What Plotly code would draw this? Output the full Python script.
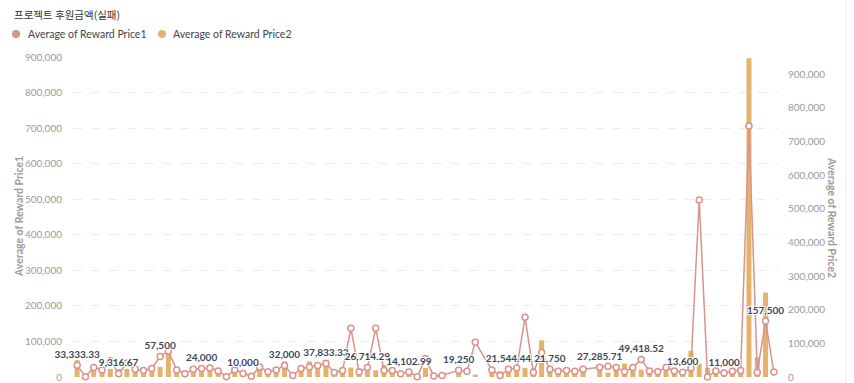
import plotly.graph_objects as go

# ---- data ----
categories = list(range(1, 86))

price1 = [33333.33, 1000, 27000, 20000, 46000, 9316.67, 39000, 22000, 18000, 24000,
          57500, 73000, 20000, 9000, 22000, 24000, 25000, 17000, 1000, 20000,
          10000, 2000, 28000, 15000, 20000, 32000, 4000, 24000, 28000, 32000,
          37833.33, 13000, 18000, 137000, 14000, 26714.29, 137000, 18000, 18000, 9000,
          14102.99, 1000, 51000, 3000, 4000, None, 19250, 16000, 98000, None,
          20000, 4000, 21544.44, 25000, 168000, 13000, 69000, 21750, 16000, 18000,
          16000, 22000, None, 27285.71, 30000, 27000, 15000, 27000, 49418.52, 17000,
          15000, 27000, 17000, 13600, 25000, 498000, 0, 17000, 11000, 16000,
          18000, 706000, 13000, 157500, 14000]

price2 = [50000, 0, 29000, 24000, 24000, 24000, 24000, 24000, 22000, 27000,
          30000, 76000, 20000, 16000, 22000, 22000, 22000, 18000, 8000, 26000,
          10000, 0, 24000, 16000, 22000, 46000, 15000, 22000, 46000, 40000,
          51000, 10000, 26000, 28000, 26000, 28000, 20000, 36000, 24000, 18000,
          15000, 8000, 27000, 0, 0, None, 26000, 0, 7000, None,
          21000, 17000, 27000, 30000, 27000, 26000, 109000, 26000, 20000, 20000,
          18000, 33000, None, 26000, 13000, 22000, 40000, 36000, 22000, 20000,
          16000, 33000, 20000, 22000, 78000, 40000, 27000, 20000, 18000, 24000,
          24000, 947000, 58000, 251000, 0]

label_indices = [0, 5, 10, 15, 20, 25, 30, 35, 40, 46, 52, 57, 63, 68, 73, 78, 83]

title_text = "프로젝트 후원금액(실패)"
name1 = "Average of Reward Price1"
name2 = "Average of Reward Price2"

# ---- styling ----
LINE_COLOR = "#d9928c"
BAR_COLOR = "#e4b26c"
TICK_COLOR = "#9b9b9b"
FONT = "Lato, 'Noto Sans CJK KR', sans-serif"

def fmt(v):
    s = f"{v:,.2f}"
    if s.endswith(".00"):
        s = s[:-3]
    return s

labels = ["" for _ in price1]
for i in label_indices:
    labels[i] = fmt(price1[i])

W, H = 854, 383
ML, MR, MT, MB = 73, 76, 57, 6
PW, PH = W - ML - MR, H - MT - MB

def px_x(px):
    return (px - ML) / PW

def px_y(py):
    return (H - MB - py) / PH

fig = go.Figure()

fig.add_trace(go.Bar(
    x=categories, y=price2, name=name2, yaxis="y",
    marker=dict(color=BAR_COLOR, line=dict(width=0)),
    showlegend=False, hoverinfo="skip",
))

fig.add_trace(go.Scatter(
    x=categories, y=price1, name=name1, yaxis="y2",
    mode="lines+markers+text", connectgaps=True,
    line=dict(color=LINE_COLOR, width=1.5),
    marker=dict(symbol="circle", size=6, color="white",
                line=dict(color=LINE_COLOR, width=1.5)),
    text=labels, textposition="top center",
    textfont=dict(family=FONT, size=10, color="#40455a", weight="bold",
                  shadow="-1px -1px 0 #fff, 1px -1px 0 #fff, -1px 1px 0 #fff, 1px 1px 0 #fff"),
    cliponaxis=False,
    showlegend=False, hoverinfo="skip",
))

tickfont = dict(family=FONT, size=10, color=TICK_COLOR)

fig.update_layout(
    width=W, height=H,
    margin=dict(l=ML, r=MR, t=MT, b=MB, pad=0, autoexpand=False),
    paper_bgcolor="white", plot_bgcolor="white",
    bargap=0.4,
    showlegend=False,
    xaxis=dict(type="category", range=[-0.5, len(categories) - 0.5],
               visible=False, automargin=False),
    yaxis=dict(side="right", range=[0, 951000], dtick=100000, tickformat=",",
               showgrid=False, zeroline=False, showline=False, automargin=False,
               tickfont=tickfont, ticklabelstandoff=9),
    yaxis2=dict(side="left", overlaying="y", range=[0, 900000], dtick=100000,
                tickformat=",", showgrid=True, gridcolor="#ececec", griddash="dash",
                gridwidth=1, zeroline=False, showline=False, automargin=False,
                tickfont=tickfont, ticklabelstandoff=10),
    font=dict(family=FONT),
)

annotations = [
    dict(text=title_text, xref="paper", yref="paper", x=px_x(12), y=px_y(14),
         xanchor="left", yanchor="middle", showarrow=False,
         font=dict(family="'Noto Sans CJK KR', sans-serif", size=10.5, color="#333333")),
    dict(text=name1, xref="paper", yref="paper", x=px_x(26), y=px_y(34),
         xanchor="left", yanchor="middle", showarrow=False,
         font=dict(family=FONT, size=10.5, color="#444444")),
    dict(text=name2, xref="paper", yref="paper", x=px_x(171), y=px_y(34),
         xanchor="left", yanchor="middle", showarrow=False,
         font=dict(family=FONT, size=10.5, color="#444444")),
    dict(text=name1, xref="paper", yref="paper", x=px_x(19), y=0.5,
         xanchor="center", yanchor="middle", showarrow=False, textangle=-90,
         font=dict(family=FONT, size=10.5, color=TICK_COLOR, weight="bold")),
    dict(text=name2, xref="paper", yref="paper", x=px_x(832), y=0.5,
         xanchor="center", yanchor="middle", showarrow=False, textangle=90,
         font=dict(family=FONT, size=10.5, color=TICK_COLOR, weight="bold")),
]
fig.update_layout(annotations=annotations)

shapes = []
for cx, col in [(16, LINE_COLOR), (162, BAR_COLOR)]:
    shapes.append(dict(type="circle", xref="paper", yref="paper",
                       xsizemode="pixel", ysizemode="pixel",
                       xanchor=px_x(cx), yanchor=px_y(34),
                       x0=-4, x1=4, y0=-4, y1=4,
                       fillcolor=col, line=dict(width=0)))
shapes.append(dict(type="line", xref="paper", yref="paper",
                   x0=px_x(846), x1=px_x(846), y0=px_y(0), y1=px_y(383),
                   line=dict(color="#eeeeee", width=1)))
fig.update_layout(shapes=shapes)

fig.write_html("out.html")
